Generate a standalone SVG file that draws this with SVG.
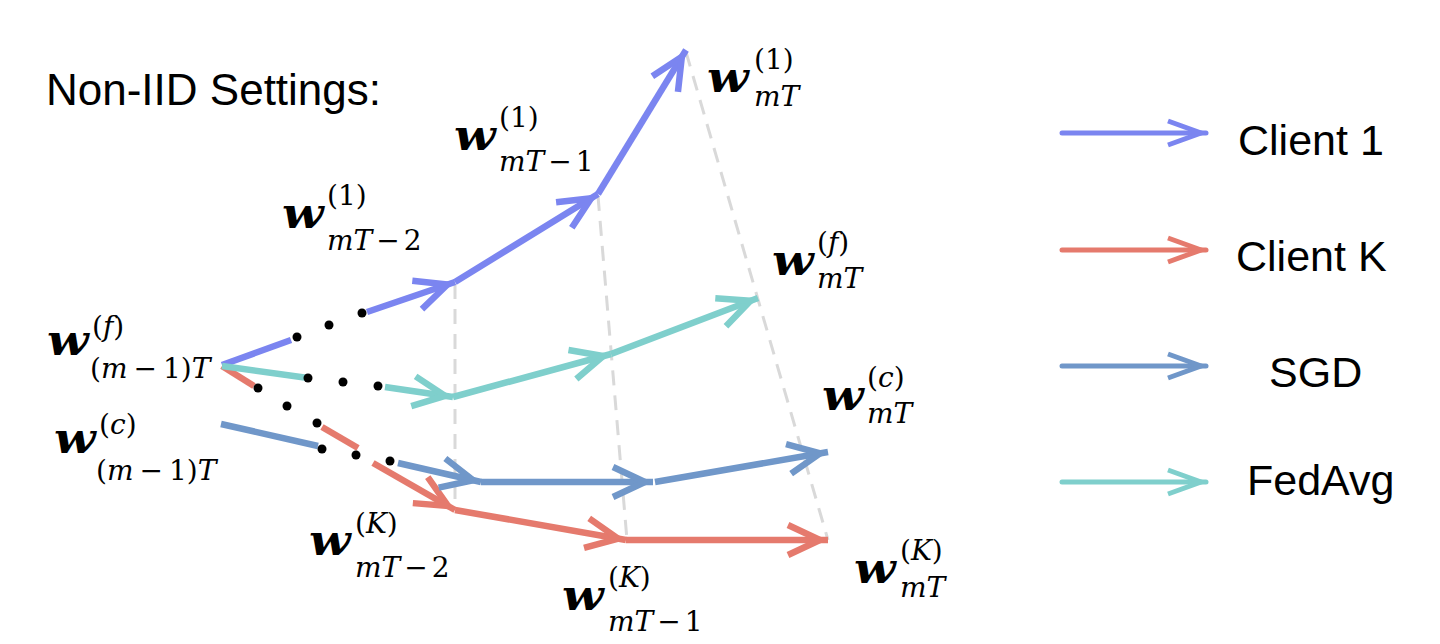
<svg xmlns="http://www.w3.org/2000/svg" width="1440" height="644" viewBox="0 0 1440 644">
<style>
.c1{stroke:#7b85f0}
.ck{stroke:#e57a6d}
.sg{stroke:#7097c9}
.fa{stroke:#7fcfcc}
.seg{fill:none;stroke-width:6.5;stroke-linecap:butt}
.leg{fill:none;stroke-width:5;stroke-linecap:round}
.dash{fill:none;stroke:#d9d9d9;stroke-width:3;stroke-dasharray:15 10}
.dot{fill:#000}
.w{font-family:"DejaVu Serif",serif;font-weight:bold;font-style:italic;font-size:42px;fill:#000}
.s{font-family:"DejaVu Serif",serif;font-size:28px;fill:#000}
.i{font-style:italic}
.t{font-family:"Liberation Sans",Arial,sans-serif;fill:#000}
</style>
<defs>
<marker id="a1" markerUnits="userSpaceOnUse" orient="auto" markerWidth="60" markerHeight="60" viewBox="-50 -30 60 60" refX="0" refY="0" overflow="visible"><path d="M-40,-15 L-8,0 L-40,15" fill="none" stroke="#7b85f0" stroke-width="6.5" stroke-linejoin="miter"/></marker>
<marker id="ak" markerUnits="userSpaceOnUse" orient="auto" markerWidth="60" markerHeight="60" viewBox="-50 -30 60 60" refX="0" refY="0" overflow="visible"><path d="M-40,-15 L-8,0 L-40,15" fill="none" stroke="#e57a6d" stroke-width="6.5" stroke-linejoin="miter"/></marker>
<marker id="as" markerUnits="userSpaceOnUse" orient="auto" markerWidth="60" markerHeight="60" viewBox="-50 -30 60 60" refX="0" refY="0" overflow="visible"><path d="M-40,-15 L-8,0 L-40,15" fill="none" stroke="#7097c9" stroke-width="6.5" stroke-linejoin="miter"/></marker>
<marker id="af" markerUnits="userSpaceOnUse" orient="auto" markerWidth="60" markerHeight="60" viewBox="-50 -30 60 60" refX="0" refY="0" overflow="visible"><path d="M-40,-15 L-8,0 L-40,15" fill="none" stroke="#7fcfcc" stroke-width="6.5" stroke-linejoin="miter"/></marker>
<marker id="l1" markerUnits="userSpaceOnUse" orient="auto" markerWidth="60" markerHeight="60" viewBox="-50 -30 60 60" refX="0" refY="0" overflow="visible"><path d="M-38,-12 L-5,0 L-38,12" fill="none" stroke="#7b85f0" stroke-width="5"/></marker>
<marker id="lk" markerUnits="userSpaceOnUse" orient="auto" markerWidth="60" markerHeight="60" viewBox="-50 -30 60 60" refX="0" refY="0" overflow="visible"><path d="M-38,-12 L-5,0 L-38,12" fill="none" stroke="#e57a6d" stroke-width="5"/></marker>
<marker id="ls" markerUnits="userSpaceOnUse" orient="auto" markerWidth="60" markerHeight="60" viewBox="-50 -30 60 60" refX="0" refY="0" overflow="visible"><path d="M-38,-12 L-5,0 L-38,12" fill="none" stroke="#7097c9" stroke-width="5"/></marker>
<marker id="lf" markerUnits="userSpaceOnUse" orient="auto" markerWidth="60" markerHeight="60" viewBox="-50 -30 60 60" refX="0" refY="0" overflow="visible"><path d="M-38,-12 L-5,0 L-38,12" fill="none" stroke="#7fcfcc" stroke-width="5"/></marker>
</defs>
<rect width="1440" height="644" fill="#fff"/>
<text id="title" class="t" x="46" y="105" font-size="44">Non-IID Settings:</text>
<g id="connectors">
<line class="dash" x1="455" y1="284" x2="455" y2="508"/>
<line class="dash" x1="598" y1="196" x2="627" y2="540"/>
<line class="dash" x1="686" y1="52" x2="828" y2="540"/>
<line class="seg c1" x1="222" y1="365" x2="291" y2="340"/>
<line class="seg c1" x1="367" y1="312" x2="455" y2="282" marker-end="url(#a1)"/>
<line class="seg c1" x1="455" y1="282" x2="598" y2="194" marker-end="url(#a1)"/>
<line class="seg c1" x1="598" y1="194" x2="686" y2="50" marker-end="url(#a1)"/>
<line class="seg ck" x1="222" y1="366" x2="254" y2="386"/>
<line class="seg ck" x1="322" y1="427" x2="358" y2="448"/>
<line class="seg ck" x1="373" y1="463" x2="455" y2="510" marker-end="url(#ak)"/>
<line class="seg ck" x1="455" y1="510" x2="626" y2="540" marker-end="url(#ak)"/>
<line class="seg ck" x1="626" y1="540" x2="828" y2="540" marker-end="url(#ak)"/>
<line class="seg fa" x1="222" y1="366" x2="308" y2="378"/>
<line class="seg fa" x1="385" y1="387" x2="453" y2="397" marker-end="url(#af)"/>
<line class="seg fa" x1="453" y1="397" x2="611" y2="354" marker-end="url(#af)"/>
<line class="seg fa" x1="611" y1="354" x2="758" y2="298" marker-end="url(#af)"/>
<line class="seg sg" x1="221" y1="424" x2="318" y2="446"/>
<line class="seg sg" x1="398" y1="463" x2="481" y2="482" marker-end="url(#as)"/>
<line class="seg sg" x1="481" y1="482" x2="653" y2="482" marker-end="url(#as)"/>
<line class="seg sg" x1="655" y1="482" x2="828" y2="452" marker-end="url(#as)"/>
<g id="dots">
<circle class="dot" cx="297" cy="337" r="4.5"/><circle class="dot" cx="329" cy="325" r="4.5"/><circle class="dot" cx="362" cy="313" r="4.5"/>
<circle class="dot" cx="308" cy="378" r="4.5"/><circle class="dot" cx="343" cy="382" r="4.5"/><circle class="dot" cx="378" cy="386" r="4.5"/>
<circle class="dot" cx="258" cy="388" r="4.5"/><circle class="dot" cx="287" cy="406" r="4.5"/><circle class="dot" cx="317" cy="423" r="4.5"/>
<circle class="dot" cx="322" cy="449" r="4.5"/><circle class="dot" cx="356" cy="455" r="4.5"/><circle class="dot" cx="390" cy="461" r="4.5"/>
</g>
</g>
<g id="w1_mT"><text class="w" transform="translate(707,92) scale(1.15,1)">w</text><text class="s" x="754" y="69">(1)</text><text class="s i" x="754" y="106">mT</text></g>
<g id="w1_mT1"><text class="w" transform="translate(454,150) scale(1.15,1)">w</text><text class="s" x="499" y="127">(1)</text><text class="s" x="499" y="171"><tspan class="i">mT</tspan><tspan dx="4">−</tspan><tspan dx="4">1</tspan></text></g>
<g id="w1_mT2"><text class="w" transform="translate(282,228) scale(1.15,1)">w</text><text class="s" x="327" y="205">(1)</text><text class="s" x="327" y="250"><tspan class="i">mT</tspan><tspan dx="4">−</tspan><tspan dx="4">2</tspan></text></g>
<g id="wf_mT"><text class="w" transform="translate(772,275) scale(1.15,1)">w</text><text class="s" x="817" y="252">(<tspan class="i">f</tspan>)</text><text class="s i" x="817" y="288">mT</text></g>
<g id="wc_mT"><text class="w" transform="translate(822,410) scale(1.15,1)">w</text><text class="s" x="867" y="387">(<tspan class="i">c</tspan>)</text><text class="s i" x="867" y="423">mT</text></g>
<g id="wK_mT"><text class="w" transform="translate(854,583) scale(1.15,1)">w</text><text class="s" x="900" y="560">(<tspan class="i">K</tspan>)</text><text class="s i" x="900" y="597">mT</text></g>
<g id="wK_mT2"><text class="w" transform="translate(309,555) scale(1.15,1)">w</text><text class="s" x="355" y="533">(<tspan class="i">K</tspan>)</text><text class="s" x="355" y="577"><tspan class="i">mT</tspan><tspan dx="4">−</tspan><tspan dx="4">2</tspan></text></g>
<g id="wK_mT1"><text class="w" transform="translate(562,610) scale(1.15,1)">w</text><text class="s" x="608" y="587">(<tspan class="i">K</tspan>)</text><text class="s" x="608" y="631"><tspan class="i">mT</tspan><tspan dx="4">−</tspan><tspan dx="4">1</tspan></text></g>
<g id="wf_m1T"><text class="w" transform="translate(47,355) scale(1.15,1)">w</text><text class="s" x="92" y="336">(<tspan class="i">f</tspan>)</text><text class="s" x="90" y="378">(<tspan class="i">m</tspan><tspan dx="6">−</tspan><tspan dx="6">1)</tspan><tspan class="i">T</tspan></text></g>
<g id="wc_m1T"><text class="w" transform="translate(54,453) scale(1.15,1)">w</text><text class="s" x="99" y="434">(<tspan class="i">c</tspan>)</text><text class="s" x="96" y="480">(<tspan class="i">m</tspan><tspan dx="6">−</tspan><tspan dx="6">1)</tspan><tspan class="i">T</tspan></text></g>
<g id="legend">
<g id="leg_c1"><line class="leg c1" x1="1062" y1="133" x2="1206" y2="133" marker-end="url(#l1)"/><text class="t" x="1238" y="155" font-size="43">Client 1</text></g>
<g id="leg_ck"><line class="leg ck" x1="1062" y1="250" x2="1206" y2="250" marker-end="url(#lk)"/><text class="t" x="1236" y="271" font-size="43">Client K</text></g>
<g id="leg_sg"><line class="leg sg" x1="1062" y1="366" x2="1206" y2="366" marker-end="url(#ls)"/><text class="t" x="1269" y="387" font-size="43">SGD</text></g>
<g id="leg_fa"><line class="leg fa" x1="1062" y1="482" x2="1206" y2="482" marker-end="url(#lf)"/><text class="t" x="1247" y="495" font-size="43">FedAvg</text></g>
</g>
</svg>
